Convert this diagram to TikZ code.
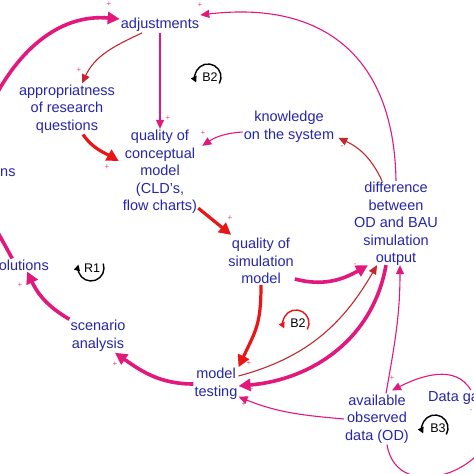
\documentclass[tikz,border=0pt]{standalone}
\usepackage{fontspec}
\setmainfont{Liberation Sans}
\usetikzlibrary{arrows.meta}
\definecolor{txtblue}{RGB}{38,38,170}
\definecolor{linkpink}{RGB}{226,24,124}
\definecolor{linkred}{RGB}{232,22,22}
\definecolor{darkred}{RGB}{196,40,46}
\definecolor{signpink}{RGB}{224,80,140}
\definecolor{signred}{RGB}{210,40,50}
\begin{document}
\begin{tikzpicture}[x=1pt,y=1pt,
  var/.style={font=\fontsize{14.5}{17.6}\selectfont, text=txtblue, align=center, inner sep=1pt},
  looplbl/.style={font=\fontsize{12.5}{12.5}\selectfont, inner sep=0pt},
  sign/.style={font=\fontsize{8}{8}\selectfont, text=signpink, inner sep=0pt},
  thickpink/.style={draw=linkpink, line width=3.6pt, -{Triangle[length=12pt,width=12pt]}},
  thickred/.style={draw=linkred, line width=3.2pt, -{Triangle[length=12pt,width=12pt]}},
  thinpink/.style={draw=linkpink, line width=1.1pt, -{Triangle[length=9pt,width=8pt]}},
  thinred/.style={draw=darkred, line width=1.1pt, -{Triangle[length=9pt,width=8pt]}},
  loopmark/.style={line width=1.4pt, -{Triangle[length=6pt,width=6pt]}},
]
\useasboundingbox (0,0) rectangle (474,474);
\fill[white] (0,0) rectangle (474,474);

% variables
\node[var] (adj)  at (160,449) {adjustments};
\node[var] (appr) at (67,365)  {appropriatness\\of research\\questions};
\node[var] (qcm)  at (160,302) {quality of\\conceptual\\model\\(CLD's,\\flow charts)};
\node[var] (know) at (289,347) {knowledge\\on the system};
\node[var] (diff) at (396,250) {difference\\between\\OD and BAU\\simulation\\output};
\node[var] (qsm)  at (261,213) {quality of\\simulation\\model};
\node[var, anchor=east] (sol) at (50,209) {solutions};
\node[var, anchor=west] (ns)  at (-1,301) {ns};
\node[var] (scen) at (98,138)  {scenario\\analysis};
\node[var] (mt)   at (216,90)  {model\\testing};
\node[var] (aod)  at (377,55)  {available\\observed\\data (OD)};
\node[var, anchor=west] (dg) at (427,76) {Data gathering};

% free ends leaving the drawing on the left
\coordinate (lin)  at (-5,377);
\coordinate (lout) at (-20,274);

% links
\draw[thickpink] (lin) to[out=62,in=175] ([yshift=6pt]adj.west);
\draw[thinpink] (diff.north) .. controls +(-2,130) and +(117,14) .. ([yshift=10pt]adj.east);
\draw[thinred] ([xshift=-18pt]adj.south) to[out=205,in=65] ([xshift=15pt]appr.north);
\draw[thinpink] (adj.south) -- (qcm.north);
\draw[thinpink] ([yshift=-5pt]know.west) to[bend right=15] ([xshift=4pt,yshift=-17pt]qcm.north east);
\draw[thinred] ([xshift=-14pt]diff.north) to[out=115,in=-25] ([xshift=3pt,yshift=6pt]know.south east);
\draw[thickred] ([xshift=16pt]appr.south) to[out=-55,in=150] ([xshift=-3pt,yshift=11pt]qcm.west);
\draw[thickred] ([yshift=7pt]qcm.south east) -- ([xshift=4pt,yshift=2pt]qsm.north west);
\draw[thickpink] ([yshift=-18pt]qsm.east) to[out=-15,in=210] ([xshift=-28pt,yshift=2pt]diff.south);
\draw[thickred] (qsm.south) to[out=-90,in=65,looseness=1.2] (mt.north east);
\draw[thinred] ([yshift=8pt]mt.east) to[out=15,in=240] ([xshift=-19pt,yshift=2pt]diff.south);
\draw[thickpink] ([xshift=-10pt,yshift=2pt]diff.south) to[out=-100,in=5] ([yshift=-2pt]mt.east);
\draw[thinpink] (aod.west) to[out=175,in=-22] ([yshift=4pt]mt.south east);
\draw[thinpink] ([xshift=9pt]aod.north) to[out=80,in=-90] ([xshift=4pt,yshift=2pt]diff.south);
\draw[thinpink] ([xshift=-5pt]dg.north) to[out=120,in=27] ([xshift=15pt,yshift=3pt]aod.north);
\draw[thinpink] ([xshift=10pt]aod.south) .. controls +(10,-63) and +(10,-63) .. ([xshift=15pt]dg.south);
\draw[thickpink] (mt.west) to[out=180,in=-35] ([xshift=17pt]scen.south);
\draw[thickpink] (scen.north west) to[out=150,in=-65] ([xshift=7pt]sol.south);
\draw[thickpink, -] ([xshift=-8pt]sol.north) -- (lout);

% polarity signs
\node[sign] (s1)  at (109,470) {+};
\node[sign] (s2)  at (200,469) {+};
\node[sign] (s3)  at (79,404)  {+};
\node[sign] (s4)  at (168,356) {+};
\node[sign] (s5)  at (203,341) {+};
\node[sign, text=signred] (s6) at (342,327) {-};
\node[sign] (s7)  at (107,307) {+};
\node[sign] (s8)  at (230,256) {+};
\node[sign] (s9)  at (355,209) {-};
\node[sign] (s10) at (249,111) {+};
\node[sign] (s11) at (251,85)  {+};
\node[sign] (s12) at (244,70)  {+};
\node[sign] (s13) at (392,96)  {+};
\node[sign] (s14) at (471,63)  {-};
\node[sign] (s15) at (115,110) {+};
\node[sign] (s16) at (20,189)  {+};

% loop markers
\node[looplbl] (b2a) at (210,397) {B2};
\draw[loopmark] ([shift={(-2,0)}]b2a.center) ++(-30:13) arc[start angle=-30,end angle=205,radius=13];
\node[looplbl] (r1) at (92,206) {R1};
\draw[loopmark] ([shift={(-1,0)}]r1.center) ++(20:13) arc[start angle=20,end angle=-195,radius=13];
\node[looplbl] (b2b) at (298,151) {B2};
\draw[loopmark, draw=linkred, -{Triangle[length=6pt,width=6pt,fill=linkred]}] ([shift={(-2,0)}]b2b.center) ++(-30:13) arc[start angle=-30,end angle=205,radius=13];
\node[looplbl] (b3) at (438,46) {B3};
\draw[loopmark] ([shift={(-3,0)}]b3.center) ++(-30:13) arc[start angle=-30,end angle=205,radius=13];
\end{tikzpicture}
\end{document}
